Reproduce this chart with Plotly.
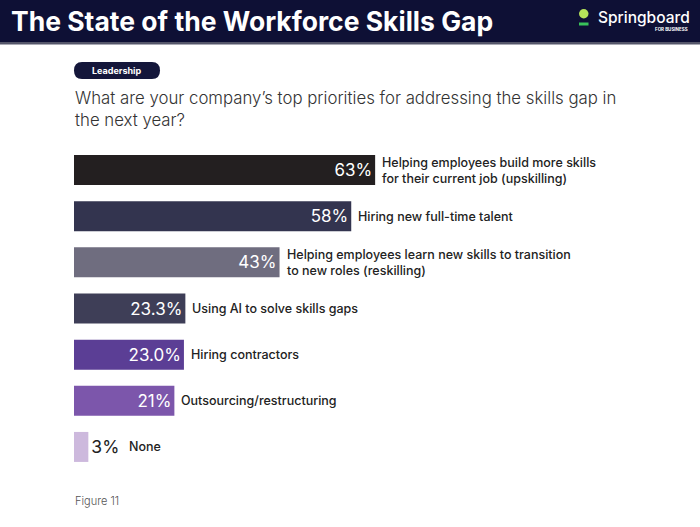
import plotly.graph_objects as go

categories = [
    "Helping employees build more skills<br>for their current job (upskilling)",
    "Hiring new full-time talent",
    "Helping employees learn new skills to transition<br>to new roles (reskilling)",
    "Using AI to solve skills gaps",
    "Hiring contractors",
    "Outsourcing/restructuring",
    "None",
]
values = [63, 58, 43, 23.3, 23.0, 21, 3]
value_labels = ["63%", "58%", "43%", "23.3%", "23.0%", "21%", "3%"]
bar_colors = ["#231f20", "#33344f", "#6f6d7f", "#3e3e57", "#5b3e95", "#7c56ab", "#cdb9dd"]

W, H = 700, 527
L, R_, T, B = 74, 0, 147, 57
PW = W - L - R_
PH = H - T - B
PX_PER_UNIT = 4.78

def px2x(p):
    return (p - L) / PW

def px2y(p):
    return (H - B - p) / PH

ypos = list(range(len(categories)))
textpos = ["inside" if v > 10 else "outside" for v in values]
textcolors = ["white" if v > 10 else "#222222" for v in values]

fig = go.Figure()
fig.add_trace(go.Bar(
    x=values, y=ypos, orientation="h",
    marker=dict(color=bar_colors, line=dict(width=0)),
    width=0.65,
    text=value_labels, textposition=textpos, insidetextanchor="end",
    textfont=dict(family="Inter", size=17, color=textcolors),
    outsidetextfont=dict(family="Inter", size=17.5, color="#222222"),
    cliponaxis=False, hoverinfo="skip",
))

annotations = []
for i, (c, v) in enumerate(zip(categories, values)):
    shift = 5 if v > 10 else 39
    annotations.append(dict(
        x=v, y=i, xref="x", yref="y", text=c, showarrow=False,
        xanchor="left", yanchor="middle", xshift=shift, align="left",
        font=dict(family="Inter", size=12.5, color="#222222", weight=500),
    ))

# header title
annotations.append(dict(
    x=px2x(9), y=px2y(21.5), xref="paper", yref="paper",
    text="The State of the Workforce Skills Gap", showarrow=False,
    xanchor="left", yanchor="middle",
    font=dict(family="Inter", size=26.5, color="white", weight=700),
))
# logo text
annotations.append(dict(
    x=px2x(692), y=px2y(17), xref="paper", yref="paper",
    text="Springboard", showarrow=False, xanchor="right", yanchor="middle",
    font=dict(family="Inter", size=15.5, color="white", weight=500),
))
annotations.append(dict(
    x=px2x(690), y=px2y(29.5), xref="paper", yref="paper",
    text="FOR BUSINESS", showarrow=False, xanchor="right", yanchor="middle",
    font=dict(family="Inter", size=4.5, color="white", weight=700),
))
# badge text
annotations.append(dict(
    x=px2x(117), y=px2y(70.5), xref="paper", yref="paper",
    text="Leadership", showarrow=False, xanchor="center", yanchor="middle",
    font=dict(family="Inter", size=9, color="white", weight=700),
))
# question
annotations.append(dict(
    x=px2x(73), y=px2y(109), xref="paper", yref="paper",
    text="What are your company’s top priorities for addressing the skills gap in<br>the next year?",
    showarrow=False, xanchor="left", yanchor="middle", align="left",
    font=dict(family="Inter", size=16.8, color="#333333", weight=300),
))
# figure note
annotations.append(dict(
    x=px2x(73), y=px2y(501), xref="paper", yref="paper",
    text="Figure 11", showarrow=False, xanchor="left", yanchor="middle",
    font=dict(family="Inter", size=11, color="#555555", weight=300),
))

shapes = [
    dict(type="rect", xref="paper", yref="paper", x0=px2x(0), x1=px2x(700),
         y0=px2y(0), y1=px2y(42), fillcolor="#0e1035", line=dict(width=0), layer="below"),
    dict(type="rect", xref="paper", yref="paper", x0=px2x(0), x1=px2x(700),
         y0=px2y(42), y1=px2y(44.5), fillcolor="#55566a", line=dict(width=0), layer="below"),
    # badge pill
    dict(type="path", xref="paper", yref="paper",
         path=(f"M {px2x(82)},{px2y(62)} L {px2x(152)},{px2y(62)} "
               f"Q {px2x(160)},{px2y(62)} {px2x(160)},{px2y(70.5)} "
               f"Q {px2x(160)},{px2y(79)} {px2x(152)},{px2y(79)} "
               f"L {px2x(82)},{px2y(79)} "
               f"Q {px2x(74)},{px2y(79)} {px2x(74)},{px2y(70.5)} "
               f"Q {px2x(74)},{px2y(62)} {px2x(82)},{px2y(62)} Z"),
         fillcolor="#14163a", line=dict(width=0)),
    # logo icon
    dict(type="circle", xref="paper", yref="paper", x0=px2x(579), x1=px2x(588.5),
         y0=px2y(9), y1=px2y(18.5), fillcolor="#b5e35a", line=dict(width=0)),
    dict(type="rect", xref="paper", yref="paper", x0=px2x(579), x1=px2x(588.5),
         y0=px2y(22.5), y1=px2y(25.5), fillcolor="#39c25a", line=dict(width=0)),
]

fig.update_layout(
    width=W, height=H,
    margin=dict(l=L, r=R_, t=T, b=B, pad=0),
    paper_bgcolor="white", plot_bgcolor="white",
    showlegend=False,
    xaxis=dict(range=[0, PW / PX_PER_UNIT], visible=False, fixedrange=True),
    yaxis=dict(range=[len(categories) - 0.5, -0.5], visible=False, fixedrange=True),
    annotations=annotations, shapes=shapes,
    uniformtext=dict(mode=False),
)
fig.write_html("out.html", config={"displayModeBar": False})
